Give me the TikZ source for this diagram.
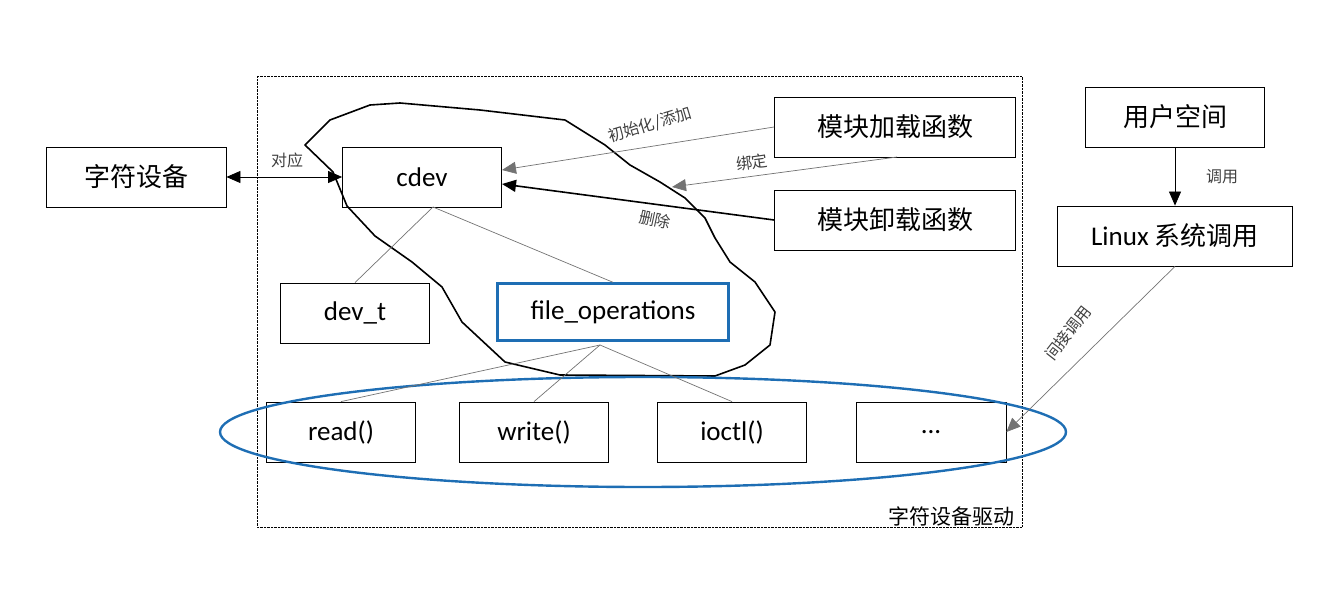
\documentclass[tikz,border=0pt]{standalone}
\usepackage{fontspec}
\setmainfont{Carlito}
\newfontfamily\cjk{Noto Sans CJK SC}
\usetikzlibrary{arrows.meta}
\definecolor{fblue}{RGB}{30,110,180}
\begin{document}
\begin{tikzpicture}[x=1pt,y=-1pt,
  box/.style={draw,thick,minimum height=60pt,inner sep=0pt,font=\fontsize{27}{29}\selectfont},
  cbox/.style={box,font=\cjk\fontsize{26}{28}\selectfont},
  lbl/.style={font=\cjk\fontsize{16}{18}\selectfont,text=black!75,inner sep=1pt},
  thin/.style={draw=black!55,line width=0.7pt},
  tip/.style={-{Triangle[length=14pt,width=12pt]}}]
\useasboundingbox (0,0) rectangle (1325,596);
\draw[densely dotted] (257,76) rectangle (1022,527);
\node[font=\cjk\fontsize{21}{23}\selectfont,anchor=south east] (drv) at (1018,530) {字符设备驱动};
\draw[line width=1.6pt,line join=round] (305,145)--(330,120)--(370,105)--(400,103)--(480,110)--(565,120)--(605,145)--(630,165)--(660,182)--(685,198)--(705,218)--(715,238)--(730,262)--(755,282)--(775,312)--(770,345)--(745,365)--(715,376)--(560,375)--(505,362)--(462,322)--(442,287)--(412,262)--(375,236)--(347,206)--(333,172)--cycle;
\node[cbox,minimum width=180pt] (dev) at (136,177) {字符设备};
\node[box,minimum width=159pt] (cdev) at (422,177) {cdev};
\node[cbox,minimum width=241pt] (load) at (895,127) {模块加载函数};
\node[cbox,minimum width=241pt] (unload) at (895,220) {模块卸载函数};
\node[cbox,minimum width=179pt] (user) at (1175,117) {用户空间};
\node[box,minimum width=235pt] (linux) at (1175,236) {Linux {\cjk\fontsize{26}{28}\selectfont 系统调用}};
\node[box,minimum width=149pt] (devt) at (355,313) {dev\_t};
\node[box,draw=fblue,line width=2.4pt,minimum width=231pt,minimum height=57pt] (fops) at (613,312) {file\_operations};
\node[box,minimum width=149pt] (read) at (341,432) {read()};
\node[box,minimum width=149pt] (write) at (534,432) {write()};
\node[box,minimum width=149pt] (ioctl) at (732,432) {ioctl()};
\node[box,minimum width=150pt] (more) at (931,432) {...};
\draw[fblue,line width=2.4pt] (643,432) ellipse [x radius=423,y radius=55];
\draw[thick,{Triangle[length=14pt,width=12pt]}-{Triangle[length=14pt,width=12pt]}] (dev) -- (cdev);
\node[lbl] (l1) at (287,160) {对应};
\coordinate (c1) at (502,170);
\coordinate (c2) at (502,184);
\coordinate (bt) at (672,187);
\coordinate (bs) at (897,157);
\coordinate (f0) at (600,345);
\coordinate (cb) at (433,207);
\draw[thin,tip] (load.west) -- (c1);
\node[lbl,rotate=17] (l2) at (650,125) {初始化/添加};
\draw[thin,tip] (bs) -- (bt);
\node[lbl,rotate=8] (l3) at (752,162) {绑定};
\draw[line width=1.6pt,tip] (unload.west) -- (c2);
\node[lbl,rotate=-12] (l4) at (655,220) {删除};
\draw[thick,tip] (user) -- (linux);
\node[lbl] (l5) at (1222,177) {调用};
\draw[thin,tip] (linux.south) -- (more.east);
\node[lbl,rotate=52] (l6) at (1068,333) {间接调用};
\draw[thin] (cb) -- (devt.north);
\draw[thin] (cb) -- (fops.north);
\draw[thin] (f0) -- (read.north);
\draw[thin] (f0) -- (write.north);
\draw[thin] (f0) -- (ioctl.north);
\end{tikzpicture}
\end{document}
